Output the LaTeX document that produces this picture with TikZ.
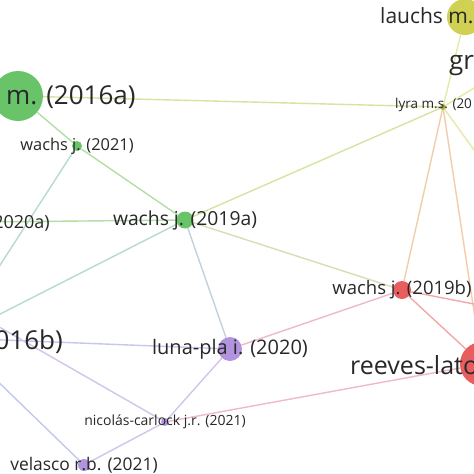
\documentclass[tikz,border=0pt]{standalone}
\usepackage{fontspec}
\setmainfont{Open Sans}
\usetikzlibrary{backgrounds}
\definecolor{vosgreen}{RGB}{105,196,105}
\definecolor{vosyellow}{RGB}{208,208,82}
\definecolor{vosred}{RGB}{232,94,94}
\definecolor{vospurple}{RGB}{178,148,222}
\definecolor{labelgray}{RGB}{40,40,40}
\definecolor{edgegreen}{RGB}{176,224,164}
\definecolor{edgeyg}{RGB}{210,230,162}
\definecolor{edgeyellow}{RGB}{230,234,168}
\definecolor{edgeteal}{RGB}{180,220,205}
\definecolor{edgeblue}{RGB}{196,200,236}
\definecolor{edgelav}{RGB}{210,196,236}
\definecolor{edgepink}{RGB}{238,186,200}
\definecolor{edgered}{RGB}{242,168,168}
\definecolor{edgeorange}{RGB}{242,205,172}
\definecolor{edgebrown}{RGB}{218,220,182}

\begin{document}
\begin{tikzpicture}[x=1pt, y=-1pt,
    pub/.style={circle, inner sep=0pt, minimum size=#1},
    lbl/.style={text=labelgray, inner sep=0pt},
    link/.style={line width=1.4pt}]
    \useasboundingbox (0,0) rectangle (474,474);
    \clip (0,0) rectangle (474,474);

    % green cluster
    \node[pub=50pt, fill=vosgreen] (lauchsA) at (18,96) {};
    \node[pub=10pt, fill=vosgreen, label={[lbl, font=\fontsize{16.4}{18}\selectfont]center:wachs j. (2021)}] (wachs21) at (77,146) {};
    \node[pub=17pt, fill=vosgreen, label={[lbl, font=\fontsize{19.3}{22}\selectfont]center:wachs j. (2019a)}] (wachs19a) at (185,220) {};
    \node[pub=12pt, fill=vosgreen] (wachs20a) at (-20,222) {};

    % purple cluster
    \node[pub=50pt, fill=vospurple] (lauchsB) at (-47,338) {};
    \coordinate (offW) at (-60,293);
    \node[pub=24pt, fill=vospurple, label={[lbl, font=\fontsize{20}{22}\selectfont]center:luna-pla i. (2020)}] (lunapla) at (230,349) {};
    \node[pub=8pt, fill=vospurple, label={[lbl, font=\fontsize{14}{16}\selectfont]center:nicolás-carlock j.r. (2021)}] (nicolas) at (165,422) {};
    \node[pub=12pt, fill=vospurple, label={[lbl, font=\fontsize{17.4}{19}\selectfont]center:velasco r.b. (2021)}] (velasco) at (84,465) {};

    % red cluster
    \node[pub=18pt, fill=vosred, label={[lbl, font=\fontsize{18.5}{20}\selectfont]center:wachs j. (2019b)}] (wachs19b) at (402,290) {};
    \node[pub=44pt, fill=vosred] (reeves) at (482,364) {};
    \coordinate (offD) at (520,313);

    % yellow cluster
    \node[pub=6pt, fill=vosyellow!85!black] (lyra) at (443,107) {};
    \node[pub=36pt, fill=vosyellow] (lauchsC) at (465,17) {};
    \node[pub=30pt, fill=vosyellow] (gra) at (510,66) {};
    \coordinate (offE) at (500,186);

    % labels cut by the border
    \node[lbl, font=\fontsize{26}{28}\selectfont, anchor=west] (lauchsAlbl) at (6,97) {m. (2016a)};
    \node[lbl, font=\fontsize{18}{20}\selectfont, anchor=east] (wachs20albl) at (50,223) {2020a)};
    \node[lbl, font=\fontsize{26}{28}\selectfont, anchor=east] (lauchsBlbl) at (63,342) {016b)};
    \node[lbl, font=\fontsize{25}{28}\selectfont, anchor=west] (reeveslbl) at (350,365) {reeves-lato};
    \node[lbl, font=\fontsize{13.5}{15}\selectfont, anchor=west] (lyralbl) at (395,105) {lyra m.s. (20};
    \node[lbl, font=\fontsize{21}{23}\selectfont, anchor=west] (lauchsClbl) at (380,16) {lauchs m.};
    \node[lbl, font=\fontsize{26}{28}\selectfont, anchor=west] (gralbl) at (449,66) {gra};

    % links
    \begin{scope}[on background layer]
        \fill[white] (0,0) rectangle (474,474);
        \clip (0,0) rectangle (474,474);
        \draw[link, edgeyg] (lauchsA) -- (lyra);
        \draw[link, edgegreen] (lauchsA) -- (wachs21);
        \draw[link, edgegreen] (wachs21) -- (wachs19a);
        \draw[link, edgeteal] (wachs21) -- (lauchsB);
        \draw[link, edgegreen] (wachs20a) -- (wachs19a);
        \draw[link, edgeteal] (wachs19a) -- (lauchsB);
        \draw[link, edgeyg] (wachs19a) -- (lyra);
        \draw[link, edgebrown] (wachs19a) -- (wachs19b);
        \draw[link, edgeteal!60!edgelav] (wachs19a) -- (lunapla);
        \draw[link, edgeblue] (lauchsB) -- (lunapla);
        \draw[link, edgeblue] (lauchsB) -- (velasco);
        \draw[link, edgelav] (offW) -- (nicolas);
        \draw[link, edgelav] (lunapla) -- (nicolas);
        \draw[link, edgelav] (nicolas) -- (velasco);
        \draw[link, edgepink] (nicolas) -- (reeves);
        \draw[link, edgepink] (lunapla) -- (wachs19b);
        \draw[link, edgeorange] (lyra) -- (wachs19b);
        \draw[link, edgeorange] (lyra) -- (reeves);
        \draw[link, edgered] (wachs19b) -- (reeves);
        \draw[link, edgered] (wachs19b) -- (offD);
        \draw[link, edgeyellow] (lyra) -- (lauchsC);
        \draw[link, edgeyellow] (lyra) -- (gra);
        \draw[link, edgeyellow] (lyra) -- (offE);
    \end{scope}
\end{tikzpicture}
\end{document}
